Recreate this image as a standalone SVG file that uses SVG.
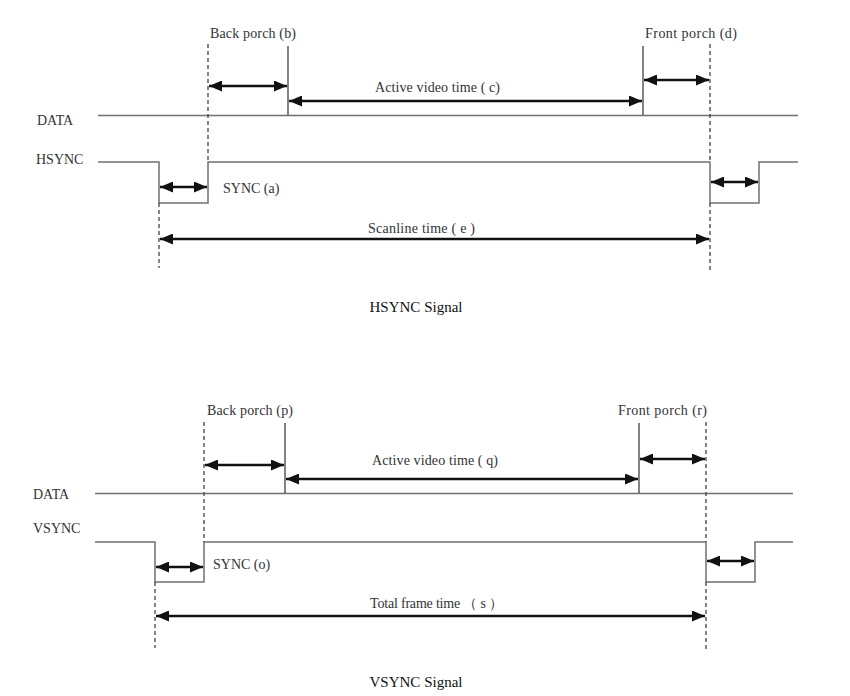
<svg xmlns="http://www.w3.org/2000/svg" width="850" height="696" viewBox="0 0 850 696">
<style>
.lbl{font-family:"Liberation Serif","Times New Roman",serif;font-size:14px;fill:#333}
.ttl{font-family:"Liberation Serif","Times New Roman",serif;font-size:15px;fill:#111}
.sig{fill:none;stroke:#707070;stroke-width:1.5}
.dash{fill:none;stroke:#444;stroke-width:1.3;stroke-dasharray:4,3}
.tick{fill:none;stroke:#333;stroke-width:1.2}
.arr{fill:none;stroke:#111;stroke-width:2.6;marker-start:url(#ah);marker-end:url(#ah)}
</style>
<defs>
<marker id="ah" viewBox="0 0 13 11" refX="13" refY="5.5" markerWidth="13" markerHeight="11" markerUnits="userSpaceOnUse" orient="auto-start-reverse">
<path d="M0,0 L13,5.5 L0,11 Z" fill="#111"/>
</marker>
</defs>
<rect width="850" height="696" fill="#fff"/>

<g id="hsync-diagram">
<g id="h-labels">
<text class="lbl" x="37" y="125">DATA</text>
<text class="lbl" x="36" y="164">HSYNC</text>
<text class="lbl" x="210" y="38" textLength="86">Back porch (b)</text>
<text class="lbl" x="645" y="38" textLength="92">Front porch (d)</text>
<text class="lbl" x="375" y="92" textLength="125">Active video time ( c)</text>
<text class="lbl" x="223" y="193">SYNC (a)</text>
<text class="lbl" x="368" y="233" textLength="107">Scanline time ( e )</text>
<text class="ttl" x="416" y="312" text-anchor="middle">HSYNC Signal</text>
</g>
<g id="h-signals">
<path class="sig" d="M98,115.5 H798"/>
<path class="sig" d="M98,162 H159 V203 H208 V162 H710 V203 H759 V162 H798"/>
</g>
<g id="h-connectors">
<path class="dash" d="M208,44 V162"/>
<path class="dash" d="M159,203 V268"/>
<path class="dash" d="M710,44 V162 M710,203 V270"/>
<path class="tick" d="M288,46 V115 M643,46 V115"/>
<path class="arr" d="M209,86 H287"/>
<path class="arr" d="M289,101 H642"/>
<path class="arr" d="M644,80 H709"/>
<path class="arr" d="M160,187 H207"/>
<path class="arr" d="M711,182 H758"/>
<path class="arr" d="M160,239 H709"/>
</g>
</g>

<g id="vsync-diagram">
<g id="v-labels">
<text class="lbl" x="33" y="499">DATA</text>
<text class="lbl" x="33" y="533">VSYNC</text>
<text class="lbl" x="207" y="415" textLength="86">Back porch (p)</text>
<text class="lbl" x="618" y="415" textLength="89">Front porch (r)</text>
<text class="lbl" x="372" y="465" textLength="126">Active video time ( q)</text>
<text class="lbl" x="213" y="569">SYNC (o)</text>
<text class="lbl" x="370" y="608" textLength="133">Total frame time （ s ）</text>
<text class="ttl" x="416" y="687" text-anchor="middle">VSYNC Signal</text>
</g>
<g id="v-signals">
<path class="sig" d="M95,493.5 H793"/>
<path class="sig" d="M95,542 H155 V582 H204 V542 H706 V582 H755 V542 H793"/>
</g>
<g id="v-connectors">
<path class="dash" d="M204,422 V542"/>
<path class="dash" d="M155,582 V648"/>
<path class="dash" d="M706,422 V542 M706,582 V650"/>
<path class="tick" d="M285,423 V493 M639,423 V493"/>
<path class="arr" d="M205,465 H284"/>
<path class="arr" d="M286,479 H638"/>
<path class="arr" d="M640,459 H705"/>
<path class="arr" d="M156,567 H203"/>
<path class="arr" d="M707,561 H754"/>
<path class="arr" d="M156,616 H705"/>
</g>
</g>
</svg>
